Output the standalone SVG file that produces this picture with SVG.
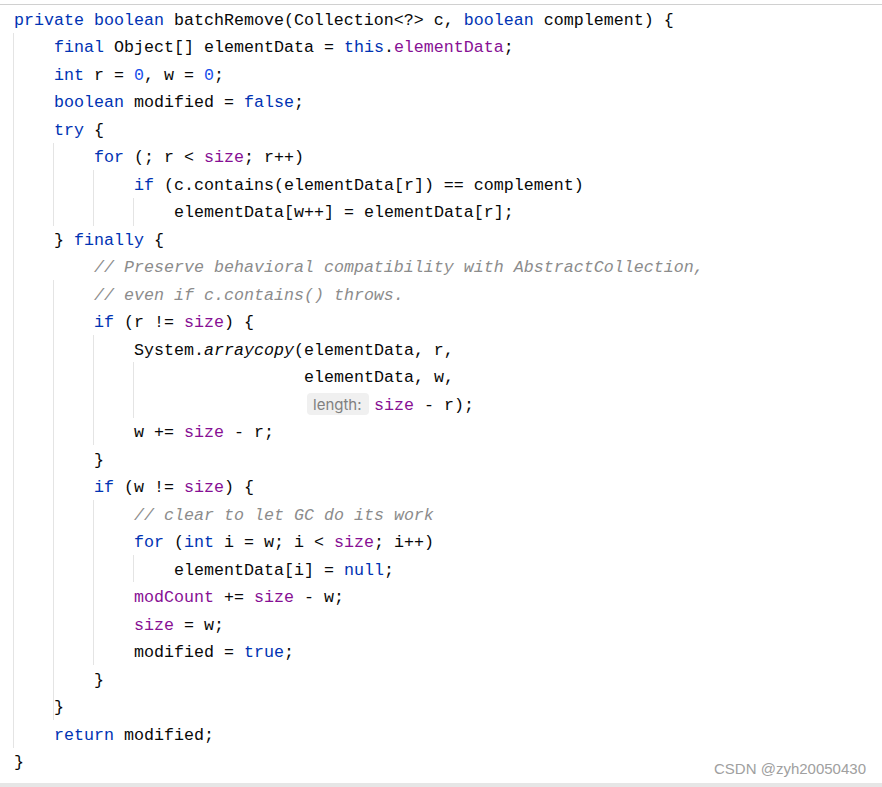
<svg xmlns="http://www.w3.org/2000/svg" width="882" height="787" viewBox="0 0 882 787">
<style>
text{font-family:"Liberation Mono","DejaVu Sans Mono",monospace;font-size:16.67px;fill:#080808}
.k{fill:#0033b3}.f{fill:#871094}.n{fill:#1750eb}.c{fill:#8c8c8c;font-style:italic}.i{font-style:italic}
.g{stroke:#e4e4e4;stroke-width:1}
</style>
<rect width="882" height="787" fill="#fff"/>
<line x1="0" y1="4.5" x2="882" y2="4.5" stroke="#d0d0d0"/>
<rect x="0" y="783" width="882" height="4" fill="#e6e6e6"/>
<g id="guides" class="g">
<line x1="13.5" y1="33" x2="13.5" y2="748"/>
<line x1="53.5" y1="143" x2="53.5" y2="226"/>
<line x1="53.5" y1="280" x2="53.5" y2="720"/>
<line x1="93.5" y1="170" x2="93.5" y2="226"/>
<line x1="93.5" y1="335" x2="93.5" y2="445"/>
<line x1="93.5" y1="500" x2="93.5" y2="665"/>
<line x1="133.5" y1="198" x2="133.5" y2="226"/>
<line x1="133.5" y1="362" x2="133.5" y2="418"/>
<line x1="133.5" y1="555" x2="133.5" y2="582"/>
</g>
<g id="code">
<text x="14" y="25"><tspan class="k">private boolean </tspan>batchRemove(Collection&lt;?&gt; c, <tspan class="k">boolean </tspan>complement) {</text>
<text x="54" y="52"><tspan class="k">final </tspan>Object[] elementData = <tspan class="k">this</tspan>.<tspan class="f">elementData</tspan>;</text>
<text x="54" y="80"><tspan class="k">int </tspan>r = <tspan class="n">0</tspan>, w = <tspan class="n">0</tspan>;</text>
<text x="54" y="107"><tspan class="k">boolean </tspan>modified = <tspan class="k">false</tspan>;</text>
<text x="54" y="135"><tspan class="k">try </tspan>{</text>
<text x="94" y="162"><tspan class="k">for </tspan>(; r &lt; <tspan class="f">size</tspan>; r++)</text>
<text x="134" y="190"><tspan class="k">if </tspan>(c.contains(elementData[r]) == complement)</text>
<text x="174" y="217">elementData[w++] = elementData[r];</text>
<text x="54" y="245">} <tspan class="k">finally </tspan>{</text>
<text x="94" y="272" class="c">// Preserve behavioral compatibility with AbstractCollection,</text>
<text x="94" y="300" class="c">// even if c.contains() throws.</text>
<text x="94" y="327"><tspan class="k">if </tspan>(r != <tspan class="f">size</tspan>) {</text>
<text x="134" y="355">System.<tspan class="i">arraycopy</tspan>(elementData, r,</text>
<text x="304" y="382">elementData, w,</text>
<rect x="307" y="393" width="62" height="22" rx="4" fill="#f0f0f0"/>
<text x="313" y="410" style="font-family:'Inter','Liberation Sans',sans-serif;font-size:15px;fill:#808080">length:</text>
<text x="374" y="410"><tspan class="f">size </tspan>- r);</text>
<text x="134" y="437">w += <tspan class="f">size </tspan>- r;</text>
<text x="94" y="465">}</text>
<text x="94" y="492"><tspan class="k">if </tspan>(w != <tspan class="f">size</tspan>) {</text>
<text x="134" y="520" class="c">// clear to let GC do its work</text>
<text x="134" y="547"><tspan class="k">for </tspan>(<tspan class="k">int </tspan>i = w; i &lt; <tspan class="f">size</tspan>; i++)</text>
<text x="174" y="575">elementData[i] = <tspan class="k">null</tspan>;</text>
<text x="134" y="602"><tspan class="f">modCount </tspan>+= <tspan class="f">size </tspan>- w;</text>
<text x="134" y="630"><tspan class="f">size </tspan>= w;</text>
<text x="134" y="657">modified = <tspan class="k">true</tspan>;</text>
<text x="94" y="685">}</text>
<text x="54" y="712">}</text>
<text x="54" y="740"><tspan class="k">return </tspan>modified;</text>
<text x="14" y="767">}</text>
</g>
<text x="866" y="774" text-anchor="end" style="font-family:'Liberation Sans',sans-serif;font-size:15px;fill:#a0a0a0">CSDN @zyh20050430</text>
</svg>
